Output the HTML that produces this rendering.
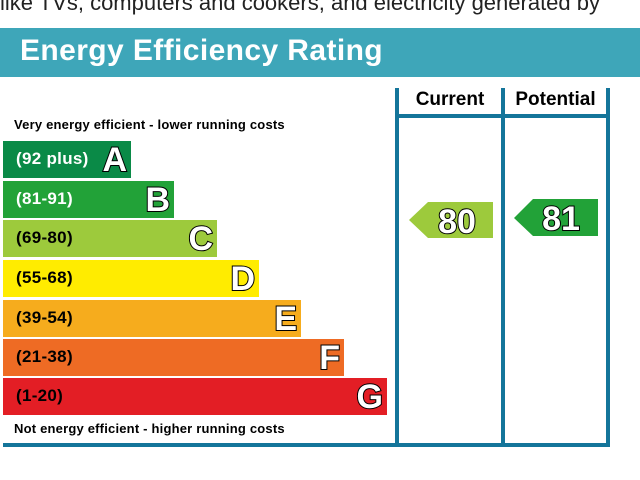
<!DOCTYPE html>
<html><head><style>
body{margin:0;width:640px;height:480px;background:#fff;position:relative;overflow:hidden;font-family:"Liberation Sans",Arial,sans-serif}
.abs{position:absolute}
.bar{position:absolute;left:3px;height:37px}
.rng{position:absolute;left:13px;top:8px;font-weight:bold;font-size:17px;letter-spacing:0.3px}
.let{position:absolute;right:4px;top:0px;font-size:34px;color:#fff;-webkit-text-stroke:2px #000;paint-order:stroke fill;font-weight:bold}
.vl{position:absolute;background:#14759a;width:4px;top:88px;height:359px}
</style></head><body>
<div class="abs" style="left:0;top:-10px;font-size:22px;color:#222;white-space:nowrap">like TVs, computers and cookers, and electricity generated by</div>
<div class="abs" style="left:0;top:28px;width:640px;height:49px;background:#3ea6b9"></div>
<div class="abs" style="left:20px;top:34px;font-size:30px;font-weight:bold;color:#fff;letter-spacing:0.4px">Energy Efficiency Rating</div>
<div class="vl" style="left:395px"></div>
<div class="vl" style="left:501px"></div>
<div class="vl" style="left:606px"></div>
<div class="abs" style="left:395px;top:114px;width:215px;height:4px;background:#14759a"></div>
<div class="abs" style="left:3px;top:443px;width:607px;height:4px;background:#14759a"></div>
<div class="abs" style="left:399px;top:89px;width:102px;text-align:center;font-weight:bold;font-size:19px">Current</div>
<div class="abs" style="left:505px;top:89px;width:101px;text-align:center;font-weight:bold;font-size:19px">Potential</div>
<div class="abs" style="left:14px;top:117px;font-weight:bold;font-size:13px;letter-spacing:0.2px">Very energy efficient - lower running costs</div>
<div class="abs" style="left:14px;top:421px;font-weight:bold;font-size:13px;letter-spacing:0.2px">Not energy efficient - higher running costs</div>
<div class="bar" style="top:141px;width:128px;background:#0a8a47"><span class="rng" style="color:#fff">(92 plus)</span><span class="let">A</span></div>
<div class="bar" style="top:181px;width:171px;background:#22a238"><span class="rng" style="color:#fff">(81-91)</span><span class="let">B</span></div>
<div class="bar" style="top:220px;width:214px;background:#9dca3c"><span class="rng">(69-80)</span><span class="let">C</span></div>
<div class="bar" style="top:260px;width:256px;background:#ffec00"><span class="rng">(55-68)</span><span class="let">D</span></div>
<div class="bar" style="top:300px;width:298px;background:#f6ac1d"><span class="rng">(39-54)</span><span class="let">E</span></div>
<div class="bar" style="top:339px;width:341px;background:#ee6b24"><span class="rng">(21-38)</span><span class="let">F</span></div>
<div class="bar" style="top:378px;width:384px;background:#e31e25"><span class="rng">(1-20)</span><span class="let">G</span></div>
<svg class="abs" style="left:0;top:0" width="640" height="480">
<polygon points="409,220 428,202 493,202 493,238 428,238" fill="#9dca3c"/>
<polygon points="514,218 533,199 598,199 598,236 533,236" fill="#22a238"/>
<text x="457" y="233" font-family="Liberation Sans" font-size="34" text-anchor="middle" fill="#fff" stroke="#000" stroke-width="2" paint-order="stroke" font-weight="bold">80</text>
<text x="561" y="230" font-family="Liberation Sans" font-size="34" text-anchor="middle" fill="#fff" stroke="#000" stroke-width="2" paint-order="stroke" font-weight="bold">81</text>
</svg>
</body></html>
